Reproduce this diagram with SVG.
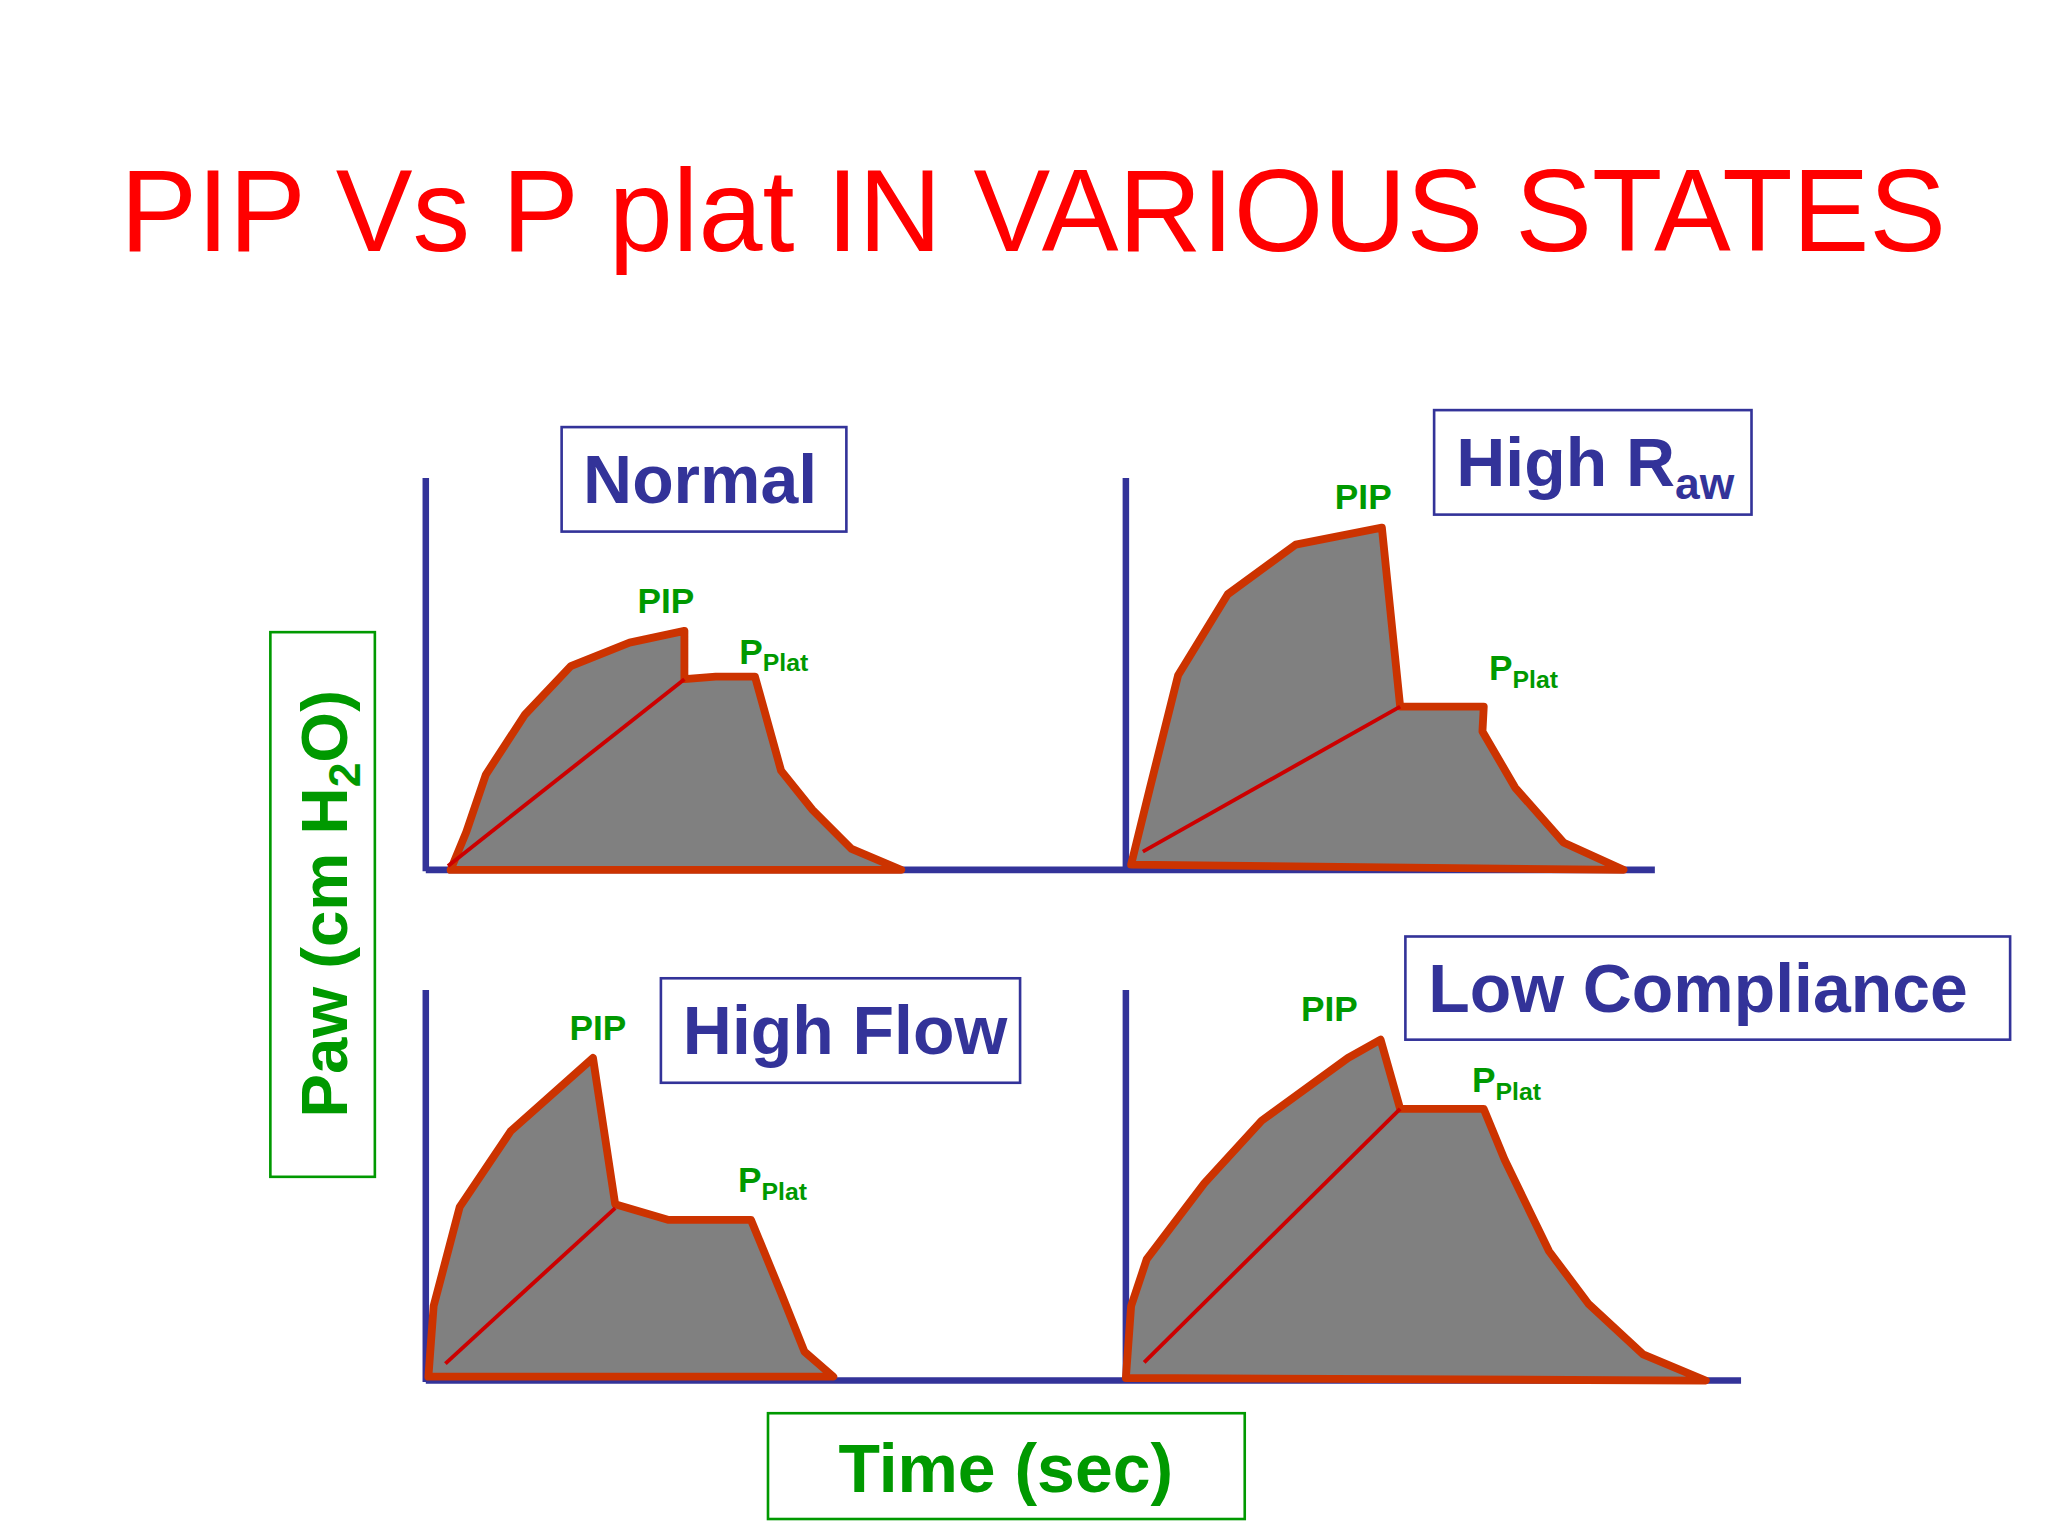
<svg xmlns="http://www.w3.org/2000/svg" width="2048" height="1536" viewBox="0 0 2048 1536">
<style>
.ax{stroke:#333399;stroke-width:5;fill:none}
.cv{fill:#808080;stroke:#cc3300;stroke-width:6;stroke-linejoin:round;stroke-linecap:round}
.ln{stroke:#cc0000;stroke-width:3}
.bb{fill:#fff;stroke:#333399;stroke-width:2}
.gb{fill:#fff;stroke:#009900;stroke-width:2}
.bt{font-family:"Liberation Sans",Arial,sans-serif;font-weight:bold;fill:#333399}
.gt{font-family:"Liberation Sans",Arial,sans-serif;font-weight:bold;fill:#009900}
</style>
<rect width="2048" height="1536" fill="#fff"/>
<g transform="scale(1.30612)">
<text id="title" x="791" y="192" text-anchor="middle" font-family="Liberation Sans,Arial,sans-serif" font-size="90" fill="#ff0000" textLength="1398" lengthAdjust="spacingAndGlyphs">PIP Vs P plat IN VARIOUS STATES</text>
<g id="axes">
<path class="ax" d="M326,366V667M326,666H1267M862,366V667M326,758V1058M326,1057H1333M862,758V1058"/>
</g>
<g id="curves">
<path class="cv" d="M345,666L357,637L372,593L402,547L437,510L482,492L524,483L524,520L548,518L578,518L598,590L622,620L652,650L690,666Z"/>
<line class="ln" x1="343" y1="663" x2="524" y2="520"/>
<path class="cv" d="M866,662L880,605L902,517L940,455L992,417L1058,404L1072,541L1136,541L1135,560L1160,603L1197,645L1243,666Z"/>
<line class="ln" x1="875" y1="652" x2="1072" y2="541"/>
<path class="cv" d="M328,1054L332,1000L352,924L391,866L454,810L471,922L512,934L575,934L598,990L616,1035L638,1054Z"/>
<line class="ln" x1="341" y1="1044" x2="471" y2="925"/>
<path class="cv" d="M862,1055L866,1000L878,964L922,906L966,858L1032,810L1057,796L1072,849L1136,849L1152,888L1186,958L1216,998L1258,1037L1306,1057Z"/>
<line class="ln" x1="876" y1="1043" x2="1072" y2="849"/>
</g>
<g id="normal"><rect class="bb" x="430" y="327" width="218" height="80"/><text class="bt" x="536" y="385" font-size="52" text-anchor="middle">Normal</text></g>
<g id="highraw"><rect class="bb" x="1098" y="314" width="243" height="80"/><text class="bt" x="1115" y="372" font-size="52">High R<tspan font-size="34" dy="10">aw</tspan></text></g>
<g id="highflow"><rect class="bb" x="506" y="749" width="275" height="80"/><text class="bt" x="647" y="807" font-size="52" text-anchor="middle">High Flow</text></g>
<g id="lowcomp"><rect class="bb" x="1076" y="717" width="463" height="79"/><text class="bt" x="1300" y="775" font-size="52" text-anchor="middle">Low Compliance</text></g>
<g id="paw"><rect class="gb" x="207" y="484" width="80" height="417"/><text class="gt" transform="translate(266,692) rotate(-90)" font-size="50" text-anchor="middle">Paw  (cm H<tspan font-size="34" dy="10">2</tspan><tspan dy="-10">O)</tspan></text></g>
<g id="time"><rect class="gb" x="588" y="1082" width="365" height="81"/><text class="gt" x="770" y="1142" font-size="52" text-anchor="middle">Time (sec)</text></g>
<g id="labels" class="gt" font-size="27">
<text class="gt" x="488" y="469" font-size="27">PIP</text>
<text class="gt" x="566" y="508" font-size="27">P<tspan font-size="19" dy="6">Plat</tspan></text>
<text class="gt" x="1022" y="390" font-size="27">PIP</text>
<text class="gt" x="1140" y="521" font-size="27">P<tspan font-size="19" dy="6">Plat</tspan></text>
<text class="gt" x="436" y="796" font-size="27">PIP</text>
<text class="gt" x="565" y="913" font-size="27">P<tspan font-size="19" dy="6">Plat</tspan></text>
<text class="gt" x="996" y="782" font-size="27">PIP</text>
<text class="gt" x="1127" y="836" font-size="27">P<tspan font-size="19" dy="6">Plat</tspan></text>
</g>
</g>
</svg>
